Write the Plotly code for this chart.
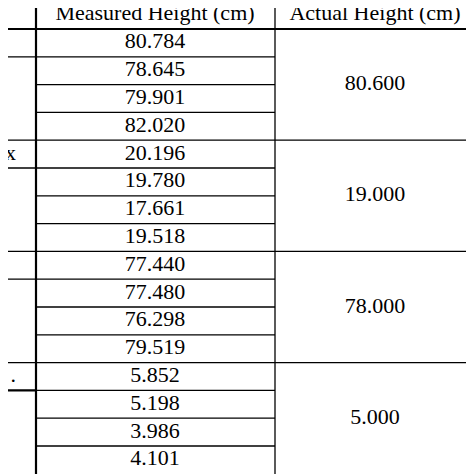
import plotly.graph_objects as go

measured = ["80.784", "78.645", "79.901", "82.020",
            "20.196", "19.780", "17.661", "19.518",
            "77.440", "77.480", "76.298", "79.519",
            "5.852", "5.198", "3.986", "4.101"]
actual = ["80.600", "19.000", "78.000", "5.000"]
labels = ["", "box", "", "."]
headers = ["Measured Height (cm)", "Actual Height (cm)"]

top = 29.0
rh = 27.8
x0, x1, x2 = 36, 275, 490
font = dict(family="Liberation Serif", size=22, color="black")

fig = go.Figure()
fig.add_trace(go.Scatter(
    x=[155] * len(measured),
    y=[top + (i + 0.5) * rh for i in range(len(measured))],
    mode="text", text=measured, textfont=font, hoverinfo="skip"))
fig.add_trace(go.Scatter(
    x=[375] * len(actual),
    y=[top + (4 * g + 2) * rh for g in range(len(actual))],
    mode="text", text=actual, textfont=font, hoverinfo="skip"))
fig.add_trace(go.Scatter(
    x=[16] * len(labels),
    y=[top + (4 * g + 0.5) * rh for g in range(len(labels))],
    mode="text", text=labels, textfont=font, textposition="middle left",
    hoverinfo="skip"))
fig.add_trace(go.Scatter(
    x=[155, 375], y=[14, 14], mode="text", text=headers,
    textfont=font, hoverinfo="skip"))

line = dict(color="black", width=1.3)
thick = dict(color="black", width=2.2)
n = len(measured)
for i in range(1, n):
    y = top + i * rh
    fig.add_shape(type="line", x0=x0, x1=x1, y0=y, y1=y, line=line)
    if i % 4 == 0:
        fig.add_shape(type="line", x0=x1, x1=x2, y0=y, y1=y, line=line)
    if i % 4 in (0, 1):
        fig.add_shape(type="line", x0=-10, x1=x0, y0=y, y1=y,
                      line=thick if i == 13 else line)
fig.add_shape(type="line", x0=-10, x1=x2, y0=top, y1=top, line=thick)
fig.add_shape(type="line", x0=x0, x1=x0, y0=-10, y1=490, line=thick)
fig.add_shape(type="line", x0=x1, x1=x1, y0=-10, y1=490, line=line)

fig.update_layout(
    width=474, height=474, margin=dict(l=0, r=0, t=0, b=0),
    plot_bgcolor="white", paper_bgcolor="white", showlegend=False,
    xaxis=dict(range=[8, 482], visible=False),
    yaxis=dict(range=[482, 8], visible=False),
)
fig.write_html("out.html")
